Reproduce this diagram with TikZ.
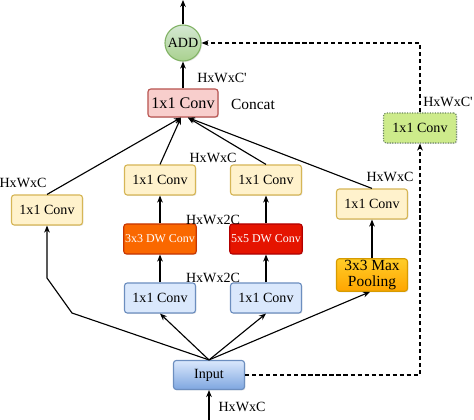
\documentclass[tikz,border=0pt]{standalone}
\usepackage{fontspec}
\setmainfont{Liberation Serif}
\usetikzlibrary{arrows.meta,shadows}

\definecolor{yfill}{HTML}{FFF2CC}
\definecolor{ydraw}{HTML}{D6B656}
\definecolor{bfill}{HTML}{DAE8FC}
\definecolor{bdraw}{HTML}{6C8EBF}
\definecolor{pfill}{HTML}{F8CECC}
\definecolor{pdraw}{HTML}{B85450}
\definecolor{gtop}{HTML}{D5E8D4}
\definecolor{gbot}{HTML}{A9D18E}
\definecolor{gdraw}{HTML}{82B366}
\definecolor{ofill}{HTML}{FA6800}
\definecolor{odraw}{HTML}{C73500}
\definecolor{rfill}{HTML}{E51400}
\definecolor{rdraw}{HTML}{B20000}
\definecolor{mtop}{HTML}{FFCD28}
\definecolor{mbot}{HTML}{FFA500}
\definecolor{mdraw}{HTML}{D79B00}
\definecolor{itop}{HTML}{DAE8FC}
\definecolor{ibot}{HTML}{7EA6E0}
\definecolor{lfill}{HTML}{CDEB8B}
\definecolor{ldraw}{HTML}{6D8764}

\tikzset{
  box/.style={draw, rounded corners=2pt, minimum width=1.775cm, minimum height=0.75cm,
    inner sep=1pt, font=\fontsize{10}{11}\selectfont,
    drop shadow={shadow xshift=0.7pt, shadow yshift=-0.7pt, opacity=0.2}},
  yconv/.style={box, fill=yfill, draw=ydraw},
  bconv/.style={box, fill=bfill, draw=bdraw},
  dwconv/.style={box, text=white, font=\fontsize{8.5}{10}\selectfont},
  poolbox/.style={box, top color=mtop, bottom color=mbot, draw=mdraw, align=center,
    font=\fontsize{11}{11.5}\selectfont},
  inbox/.style={box, top color=itop, bottom color=ibot, draw=bdraw, minimum height=0.725cm},
  catbox/.style={box, fill=pfill, draw=pdraw, minimum width=1.75cm, minimum height=0.7cm,
    font=\fontsize{11.5}{13}\selectfont},
  resbox/.style={box, fill=lfill, draw=ldraw, densely dotted, minimum width=1.825cm},
  addnode/.style={circle, draw=gdraw, top color=gtop, bottom color=gbot, minimum size=0.9cm,
    inner sep=0pt, font=\fontsize{10}{11}\selectfont,
    drop shadow={shadow xshift=0.7pt, shadow yshift=-0.7pt, opacity=0.2}},
  dim/.style={inner sep=0pt, font=\fontsize{10}{11}\selectfont},
  skip/.style={->, dash pattern=on 3pt off 2pt}
}

\begin{document}
\begin{tikzpicture}[>={Stealth[length=5pt,width=4pt]}, line width=0.8pt]
\useasboundingbox (0,0) rectangle (11.85,10.5);

\node (S) at (4.575,9.425) [addnode]{ADD};
\node (K) at (4.575,7.925) [catbox]{1x1 Conv};
\node (K-t) at (6.325,7.9) [dim, font=\fontsize{11}{12}\selectfont]{Concat};
\node (K-d) at (5.55,8.55) [dim]{HxWxC\textquotesingle};

\node (A-1) at (1.175,5.25) [yconv]{1x1 Conv};
\node (A-d) at (0.575,5.925) [dim]{HxWxC};

\node (B-1) at (4.0,3.05) [bconv]{1x1 Conv};
\node (B-2) at (4.0,4.525) [dwconv, fill=ofill, draw=odraw]{3x3 DW Conv};
\node (B-3) at (4.0,6.0) [yconv]{1x1 Conv};

\node (C-1) at (6.65,3.05) [bconv]{1x1 Conv};
\node (C-2) at (6.65,4.525) [dwconv, fill=rfill, draw=rdraw]{5x5 DW Conv};
\node (C-3) at (6.65,6.0) [yconv]{1x1 Conv};

\node (M-1) at (5.325,3.55) [dim]{HxWx2C};
\node (M-2) at (5.325,5.0) [dim]{HxWx2C};
\node (M-3) at (5.325,6.55) [dim]{HxWxC};

\node (D-1) at (9.3,3.625) [poolbox]{3x3 Max\\Pooling};
\node (D-2) at (9.3,5.4) [yconv]{1x1 Conv};
\node (D-d) at (9.75,6.075) [dim]{HxWxC};

\node (E-1) at (10.5,7.3) [resbox]{1x1 Conv};
\node (E-d) at (11.2,7.95) [dim]{HxWxC\textquotesingle};

\node (I) at (5.225,1.125) [inbox]{Input};
\node (I-d) at (6.05,0.325) [dim]{HxWxC};

\coordinate (bot) at (5.225,0);
\coordinate (top) at (4.575,10.5);
\coordinate (A-k1) at (1.175,3.55);
\coordinate (A-k2) at (1.8,2.675);
\coordinate (E-b) at (10.5,1.125);
\coordinate (E-t) at (10.5,9.425);

% input branches
\draw [->] (bot) -- (I);
\draw [->] (I.north) -- (A-k2) -- (A-k1) -- (A-1);
\draw [->] (I.north) -- (B-1.south);
\draw [->] (I.north) -- (C-1.south);
\draw [->] (I.north) -- ([xshift=-0.05cm]D-1.south);

\draw [->] (B-1) -- (B-2);
\draw [->] (B-2) -- (B-3);
\draw [->] (C-1) -- (C-2);
\draw [->] (C-2) -- (C-3);
\draw [->] (D-1) -- (D-2);

% concat
\draw [->] (A-1.north) -- ([xshift=-0.05cm]K.south);
\draw [->] (B-3.north) -- ([xshift=-0.05cm]K.south);
\draw [->] (C-3.north) -- ([xshift=0.12cm]K.south);
\draw [->] (D-2.north) -- ([xshift=0.12cm]K.south);
\draw [->] (K) -- (S);
\draw [->] (S) -- (top);

% shortcut
\draw [skip] (I.east) -- (E-b) -- (E-1.south);
\draw [skip] (E-1.north) -- (E-t) -- (S.east);
\end{tikzpicture}
\end{document}
